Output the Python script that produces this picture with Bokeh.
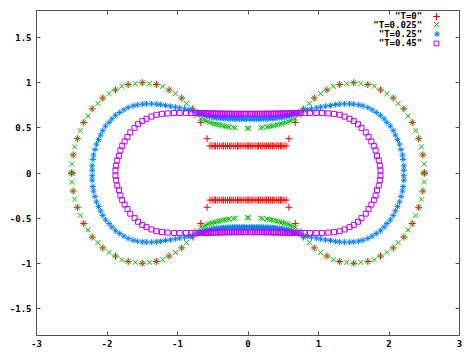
from bokeh.plotting import figure
from bokeh.models import Range1d, FixedTicker, LinearAxis, Label, Legend, LegendItem
from bokeh.core.properties import value
from bokeh.embed import file_html
from bokeh.resources import INLINE

SERIES = ['"T=0"', '"T=0.025"', '"T=0.25"', '"T=0.45"']
COLORS = ["#ff0000", "#00c000", "#0080ff", "#c000ff"]
X_TICKS = [-3, -2, -1, 0, 1, 2, 3]
X_TICK_LABELS = ["-3", "-2", "-1", "0", "1", "2", "3"]
Y_TICKS = [-1.5, -1, -0.5, 0, 0.5, 1, 1.5]
Y_TICK_LABELS = ["-1.5", "-1", "-0.5", "0", "0.5", "1", "1.5"]

# Points read from the upper-left quadrant (the curves are symmetric about both axes)
t0_x = [-2.50, -2.48, -2.42, -2.33, -2.21, -2.06, -1.88, -1.70, -1.50, -1.30,
        -1.12, -0.94, -0.79, -0.67, -0.58,
        -0.54, -0.51, -0.48, -0.46, -0.43, -0.40, -0.37, -0.35, -0.32, -0.29,
        -0.26, -0.24, -0.21, -0.18, -0.15, -0.13, -0.10, -0.07, -0.04, -0.01]
t0_y = [0.00, 0.20, 0.38, 0.56, 0.71, 0.83, 0.92, 0.98, 1.00, 0.98,
        0.92, 0.83, 0.71, 0.56, 0.38,
        0.30, 0.30, 0.30, 0.30, 0.30, 0.30, 0.30, 0.30, 0.30, 0.30,
        0.30, 0.30, 0.30, 0.30, 0.30, 0.30, 0.30, 0.30, 0.30, 0.30]

t1_x = [-2.50, -2.50, -2.48, -2.46, -2.42, -2.38, -2.33, -2.27, -2.21, -2.13,
        -2.06, -1.97, -1.88, -1.79, -1.70, -1.60, -1.50, -1.40, -1.30, -1.21,
        -1.12, -1.03, -0.94, -0.87, -0.79, -0.72, -0.67,
        -0.63, -0.60, -0.57, -0.54, -0.51, -0.48, -0.45, -0.42, -0.39, -0.36,
        -0.33, -0.30, -0.27, -0.21, -0.18, -0.01]
t1_y = [0.00, 0.10, 0.20, 0.29, 0.38, 0.47, 0.56, 0.63, 0.71, 0.77,
        0.83, 0.88, 0.92, 0.96, 0.98, 0.99, 1.00, 0.99, 0.98, 0.96,
        0.92, 0.88, 0.83, 0.77, 0.71, 0.64, 0.60,
        0.59, 0.58, 0.57, 0.56, 0.555, 0.545, 0.54, 0.535, 0.53, 0.525,
        0.52, 0.515, 0.51, 0.505, 0.50, 0.495]

t2_x = [-2.21, -2.21, -2.20, -2.19, -2.17, -2.15, -2.12, -2.09, -2.06, -2.02,
        -1.97, -1.93, -1.88, -1.82, -1.76, -1.70, -1.63, -1.57, -1.50, -1.44,
        -1.37, -1.30, -1.24, -1.17, -1.10, -1.03, -0.97, -0.90, -0.84, -0.78,
        -0.72,
        -0.67, -0.645, -0.62, -0.595, -0.57, -0.545, -0.52, -0.495, -0.47, -0.445,
        -0.42, -0.395, -0.37, -0.345, -0.32, -0.295, -0.27, -0.245, -0.22, -0.195,
        -0.17, -0.145, -0.12, -0.095, -0.07, -0.045, -0.02]
t2_y = [0.03, 0.08, 0.15, 0.20, 0.26, 0.32, 0.37, 0.42, 0.47, 0.52,
        0.56, 0.60, 0.64, 0.67, 0.70, 0.725, 0.745, 0.755, 0.762, 0.766,
        0.766, 0.762, 0.758, 0.748, 0.74, 0.73, 0.72, 0.71, 0.70, 0.69,
        0.675,
        0.66, 0.652, 0.645, 0.638, 0.633, 0.628, 0.624, 0.62, 0.617, 0.614,
        0.612, 0.61, 0.608, 0.606, 0.605, 0.604, 0.603, 0.602, 0.601, 0.60,
        0.60, 0.60, 0.60, 0.60, 0.60, 0.60, 0.60]

t3_x = [-1.88, -1.87, -1.855, -1.83, -1.81, -1.785, -1.75, -1.71, -1.67, -1.61,
        -1.56, -1.50, -1.44, -1.37, -1.30, -1.22, -1.14, -1.05, -0.97, -0.88,
        -0.80, -0.745,
        -0.70, -0.675, -0.65, -0.625, -0.60, -0.575, -0.55, -0.525, -0.50, -0.475,
        -0.45, -0.425, -0.40, -0.375, -0.35, -0.325, -0.30, -0.275, -0.25, -0.225,
        -0.20, -0.175, -0.15, -0.125, -0.10, -0.075, -0.05, -0.025]
t3_y = [0.03, 0.08, 0.14, 0.19, 0.25, 0.30, 0.35, 0.40, 0.45, 0.50,
        0.54, 0.575, 0.60, 0.625, 0.645, 0.655, 0.66, 0.665, 0.665, 0.665,
        0.665, 0.665,
        0.663, 0.663, 0.662, 0.662, 0.661, 0.661, 0.660, 0.660, 0.659, 0.659,
        0.658, 0.658, 0.657, 0.657, 0.657, 0.656, 0.656, 0.656, 0.656, 0.655,
        0.655, 0.655, 0.655, 0.655, 0.655, 0.655, 0.655, 0.655]


def four_quadrants(qx, qy):
    xs, ys = [], []
    for sx, sy in [(1, 1), (-1, 1), (1, -1), (-1, -1)]:
        xs += [sx * v for v in qx]
        ys += [sy * v for v in qy]
    return xs, ys


FONT = "DejaVu Sans Mono"
FRAME = "#505050"
FRAME_LEFT, FRAME_BOTTOM = 36, 335   # screen px of the plot frame

p = figure(width=474, height=355, x_range=Range1d(-3, 3), y_range=Range1d(-1.8, 1.8),
           output_backend="svg", toolbar_location=None,
           min_border_left=36, min_border_right=15, min_border_top=10, min_border_bottom=20)
p.grid.visible = False
p.outline_line_color = FRAME
p.outline_line_width = 1
p.background_fill_color = "white"
p.border_fill_color = "white"

x_bottom = p.below[0]
y_left = p.left[0]
x_top = LinearAxis()
y_right = LinearAxis()
p.add_layout(y_right, "right")
p.add_layout(x_top, "above")

for ax in (x_bottom, x_top):
    ax.ticker = FixedTicker(ticks=X_TICKS)
    ax.major_label_overrides = {t: s for t, s in zip(X_TICKS, X_TICK_LABELS)}
for ax in (y_left, y_right):
    ax.ticker = FixedTicker(ticks=Y_TICKS)
    ax.major_label_overrides = {t: s for t, s in zip(Y_TICKS, Y_TICK_LABELS)}

for ax in (x_bottom, x_top, y_left, y_right):
    ax.axis_line_color = None
    ax.major_tick_in = 4
    ax.major_tick_out = 0
    ax.major_tick_line_color = FRAME
    ax.minor_tick_line_color = None
    ax.major_label_text_font = FONT
    ax.major_label_text_font_style = "bold"
    ax.major_label_text_font_size = "9px"
    ax.major_label_text_color = "black"
y_left.major_label_standoff = 5
x_bottom.major_label_standoff = 4
for ax in (x_top, y_right):
    ax.major_label_text_color = None
    ax.major_label_text_font_size = "0px"
    ax.major_label_standoff = 0

markers = ["cross", "x", "asterisk", "square"]
sizes = [7, 7, 6, 5]
data = [(t0_x, t0_y), (t1_x, t1_y), (t2_x, t2_y), (t3_x, t3_y)]
renderers = []
for (qx, qy), m, c, s in zip(data, markers, COLORS, sizes):
    xs, ys = four_quadrants(qx, qy)
    r = p.scatter(xs, ys, marker=m, size=s, line_color=c, fill_color=None, line_width=1)
    renderers.append(r)

# gnuplot-style key: one sample per row on the right, right-aligned text to its left
key_rows_px = [15.7, 24.3, 33.3, 42.7]   # screen y of each key row
key_sample_x = 436                        # screen x of the key samples
for r, s, row in zip(renderers, sizes, key_rows_px):
    g = round(s / 0.4)
    lg = Legend(items=[LegendItem(label=value(" "), renderers=[r])],
                location=(key_sample_x - g / 2 - FRAME_LEFT, FRAME_BOTTOM - (row + g / 2)),
                glyph_width=g, glyph_height=g, label_width=1, label_height=g,
                label_standoff=0, spacing=0, padding=0, margin=0,
                border_line_color=None, background_fill_alpha=0,
                label_text_font_size="0px", label_text_color=None)
    p.add_layout(lg)

legend_y = [1.736, 1.641, 1.541, 1.437]
for name, ly in zip(SERIES, legend_y):
    p.add_layout(Label(x=2.47, y=ly, text=name, text_align="right", text_baseline="middle",
                       text_font=FONT, text_font_style="bold", text_font_size="9px",
                       text_color="black"))

open("out.html", "w").write(file_html(p, INLINE))
